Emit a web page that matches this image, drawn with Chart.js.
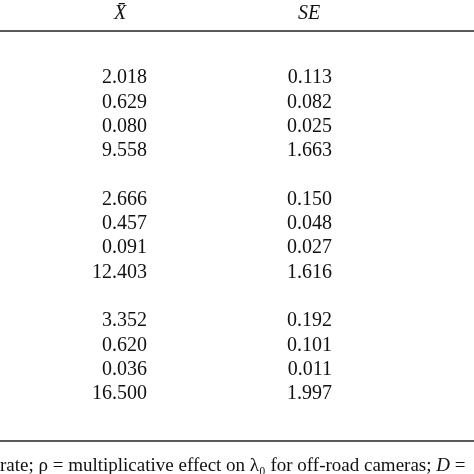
<!DOCTYPE html>
<html>
<head>
<script src="https://cdn.jsdelivr.net/npm/chart.js@4"></script>
<style>
html, body { margin: 0; padding: 0; background: #fff; }
#wrap { width: 474px; height: 474px; }
</style>
</head>
<body>
<div id="wrap"><canvas id="tableChart"></canvas></div>
<script>
// Table values, three groups of four rows
const headers = ['X\u0304', 'SE'];
const means = ['2.018', '0.629', '0.080', '9.558', '2.666', '0.457', '0.091', '12.403', '3.352', '0.620', '0.036', '16.500'];
const ses = ['0.113', '0.082', '0.025', '1.663', '0.150', '0.048', '0.027', '1.616', '0.192', '0.101', '0.011', '1.997'];
const footnote = 'rate; \u03C1 = multiplicative effect on \u03BB\u2080 for off-road cameras; ';

// row position in the y scale (pixel-like units)
function rowY(i) {
    const g = Math.floor(i / 4), k = i % 4;
    return 78 + g * 121.5 + k * 24.3;
}

const pts = means.map((m, i) => ({ x: 147, y: rowY(i), label: m }))
    .concat(ses.map((s, i) => ({ x: 332, y: rowY(i), label: s })));

const tableText = {
    id: 'tableText',
    afterDatasetsDraw(chart) {
        const ctx = chart.ctx, xs = chart.scales.x, ys = chart.scales.y;
        ctx.save();
        ctx.fillStyle = '#111';
        ctx.textBaseline = 'middle';
        ctx.font = '20px "Liberation Serif"';
        ctx.textAlign = 'right';
        pts.forEach(p => ctx.fillText(p.label, xs.getPixelForValue(p.x), ys.getPixelForValue(p.y)));
        ctx.font = 'italic 20px "Liberation Serif"';
        ctx.textAlign = 'center';
        ctx.fillText(headers[0], xs.getPixelForValue(120), ys.getPixelForValue(14));
        ctx.fillText(headers[1], xs.getPixelForValue(309), ys.getPixelForValue(14));
        ctx.font = '19px "Liberation Serif"';
        ctx.textAlign = 'left';
        const fy = ys.getPixelForValue(466);
        ctx.fillText(footnote, xs.getPixelForValue(0), fy);
        let w = ctx.measureText(footnote).width;
        ctx.font = 'italic 19px "Liberation Serif"';
        ctx.fillText('D', w, fy);
        w += ctx.measureText('D').width;
        ctx.font = '19px "Liberation Serif"';
        ctx.fillText(' =', w, fy);
        // rules
        ctx.strokeStyle = '#222';
        ctx.lineWidth = 1.5;
        [31, 441].forEach(v => {
            ctx.beginPath();
            ctx.moveTo(xs.getPixelForValue(0), ys.getPixelForValue(v));
            ctx.lineTo(xs.getPixelForValue(474), ys.getPixelForValue(v));
            ctx.stroke();
        });
        ctx.restore();
    }
};

new Chart(document.getElementById('tableChart'), {
    type: 'scatter',
    data: { datasets: [{ data: pts, pointRadius: 0 }] },
    options: {
        responsive: true,
        maintainAspectRatio: false,
        animation: false,
        layout: { padding: 0 },
        plugins: { legend: { display: false }, tooltip: { enabled: false } },
        scales: {
            x: { display: false, min: 0, max: 474 },
            y: { display: false, min: 0, max: 474, reverse: true }
        }
    },
    plugins: [tableText]
});
</script>
</body>
</html>
